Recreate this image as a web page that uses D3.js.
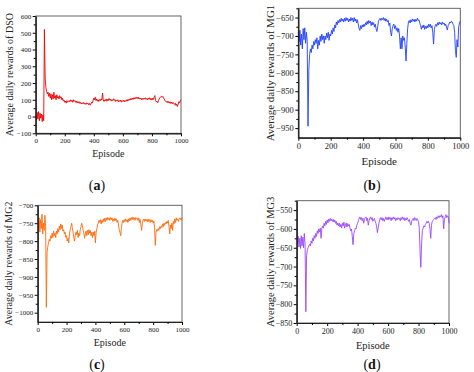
<!DOCTYPE html>
<html>
<head>
<meta charset="utf-8">
<script src="https://cdn.jsdelivr.net/npm/d3@7"></script>
<style>
body { margin: 0; background: #fff; }
svg { display: block; }
svg text { font-family: "Liberation Serif", "Times New Roman", "DejaVu Serif", serif; }
</style>
</head>
<body>
<div id="chart"></div>
<script>
// episode grid, one reading every 5 episodes
var episodes = d3.range(0, 1001, 5);

var dsoRewards = [5,-20,25,-15,30,-25,20,-10,15,-30,10,-25,520,230,175,150,135,145,120,140,
  110,135,100,130,105,145,110,125,100,130,110,120,105,125,110,118,100,110,92,98,
  85,92,80,95,85,90,95,88,100,90,97,85,100,90,95,85,92,82,90,80,
  88,78,85,75,82,76,84,74,80,72,82,75,80,70,78,68,75,85,80,95,
  110,100,115,95,105,92,100,90,102,95,105,98,140,100,90,100,95,105,92,102,
  95,108,98,105,92,100,95,106,96,102,90,98,92,100,88,96,90,98,86,95,
  90,98,88,96,90,100,92,102,95,105,98,108,100,110,102,112,104,114,106,115,
  108,116,105,112,104,110,100,108,102,110,104,112,102,108,100,110,103,112,100,108,
  98,110,102,115,125,95,88,92,82,95,105,112,118,122,115,120,110,105,95,90,
  85,92,82,90,80,88,78,86,76,84,78,72,80,66,75,60,72,88,80,95,100];

var mg1Rewards = [-690,-715,-685,-725,-695,-735,-680,-710,-678,-720,-690,-715,-945,-790,-750,-735,-745,-725,-735,-715,
  -725,-710,-720,-705,-735,-712,-725,-700,-715,-695,-710,-700,-720,-700,-710,-692,-705,-690,-712,-695,
  -700,-685,-695,-678,-688,-670,-678,-662,-670,-658,-665,-655,-662,-652,-660,-654,-662,-652,-660,-650,
  -658,-652,-662,-654,-660,-650,-658,-652,-662,-650,-660,-654,-665,-656,-668,-680,-685,-672,-680,-670,
  -676,-668,-674,-664,-670,-660,-668,-658,-665,-660,-672,-662,-670,-664,-676,-668,-680,-688,-675,-660,
  -655,-652,-658,-652,-656,-650,-658,-652,-660,-654,-662,-658,-672,-665,-690,-700,-680,-672,-668,-680,
  -672,-685,-678,-690,-680,-700,-735,-705,-735,-700,-712,-705,-730,-768,-720,-680,-662,-658,-665,-656,
  -662,-654,-660,-655,-662,-655,-660,-652,-658,-656,-665,-672,-682,-672,-678,-670,-682,-674,-680,-672,
  -678,-668,-675,-668,-678,-672,-690,-722,-682,-672,-668,-674,-664,-670,-662,-668,-664,-670,-662,-668,
  -665,-672,-668,-676,-684,-672,-668,-662,-665,-660,-662,-668,-672,-690,-740,-758,-710,-730,-675,-665,-660];

var mg2Rewards = [-745,-770,-735,-775,-740,-765,-725,-780,-750,-770,-728,-760,-985,-830,-815,-805,-795,-800,-785,-792,
  -778,-790,-772,-785,-778,-790,-772,-780,-765,-775,-758,-768,-752,-765,-755,-772,-768,-780,-775,-790,
  -785,-800,-792,-805,-780,-768,-760,-750,-762,-775,-790,-800,-785,-775,-782,-770,-790,-778,-785,-768,
  -760,-750,-758,-770,-778,-792,-780,-772,-785,-770,-782,-768,-778,-770,-785,-775,-790,-775,-785,-772,
  -805,-775,-765,-755,-750,-742,-748,-740,-752,-742,-748,-738,-746,-736,-745,-735,-742,-734,-740,-735,
  -742,-734,-740,-735,-745,-738,-744,-736,-742,-738,-748,-742,-755,-768,-775,-785,-765,-750,-742,-748,
  -740,-746,-738,-745,-740,-748,-738,-744,-735,-742,-734,-740,-733,-740,-735,-742,-734,-738,-736,-742,
  -735,-748,-740,-755,-770,-752,-742,-738,-745,-738,-744,-740,-746,-738,-745,-740,-748,-740,-746,-742,
  -750,-744,-762,-812,-775,-768,-772,-765,-770,-760,-765,-758,-762,-752,-760,-750,-756,-748,-752,-745,
  -750,-742,-760,-780,-755,-765,-750,-770,-745,-752,-738,-748,-735,-742,-738,-745,-738,-735,-740,-735,-742];

var mg3Rewards = [-615,-640,-620,-648,-625,-652,-618,-645,-622,-650,-612,-640,-820,-670,-655,-650,-645,-640,-645,-632,
  -638,-625,-632,-618,-625,-612,-620,-605,-612,-600,-608,-598,-625,-598,-592,-598,-585,-592,-580,-588,
  -576,-584,-574,-580,-572,-578,-574,-580,-575,-582,-576,-585,-580,-590,-584,-592,-585,-595,-588,-598,
  -585,-592,-582,-598,-590,-584,-595,-586,-592,-588,-598,-605,-600,-620,-642,-612,-605,-598,-600,-590,
  -585,-578,-572,-568,-575,-570,-578,-572,-585,-575,-570,-568,-578,-572,-590,-578,-572,-568,-575,-570,
  -580,-575,-572,-580,-585,-595,-610,-598,-585,-575,-570,-576,-570,-578,-572,-580,-574,-568,-575,-570,
  -576,-568,-574,-570,-578,-570,-575,-568,-574,-570,-578,-572,-576,-570,-574,-572,-578,-570,-575,-568,
  -575,-570,-578,-572,-576,-570,-575,-580,-575,-585,-590,-580,-575,-572,-578,-570,-574,-578,-572,-576,
  -580,-600,-660,-702,-640,-605,-598,-592,-595,-588,-585,-580,-584,-580,-585,-600,-625,-590,-580,-578,
  -575,-572,-570,-575,-568,-572,-565,-570,-565,-568,-562,-570,-565,-600,-575,-568,-562,-570,-565,-568,-585];

var xTicks = [0, 200, 400, 600, 800, 1000];
var dsoTicks = [-100, 0, 100, 200, 300, 400, 500, 600];
var mg1Ticks = [-950, -900, -850, -800, -750, -700, -650];
var mg2Ticks = [-1000, -950, -900, -850, -800, -750, -700];
var mg3Ticks = [-850, -800, -750, -700, -650, -600, -550];

var panels = [
  {values: dsoRewards, ticks: dsoTicks, step: 100, domain: [-100, 600], color: "#f20000",
   name: "Average daily rewards of DSO", tag: "(a)",
   left: 35.7, right: 181, top: 16, bottom: 133.3, tickFont: 7, labelFont: 10,
   labelX: 13, episodeY: 157, tagX: 97, tagY: 190},
  {values: mg1Rewards, ticks: mg1Ticks, step: 50, domain: [-976, -625], color: "#2040ff",
   name: "Average daily rewards of MG1", tag: "(b)",
   left: 298.3, right: 460.3, top: 8.3, bottom: 137.7, tickFont: 8.5, labelFont: 11,
   labelX: 274, episodeY: 165, tagX: 372, tagY: 190},
  {values: mg2Rewards, ticks: mg2Ticks, step: 50, domain: [-1026, -700], color: "#ff6a0a",
   name: "Average daily rewards of MG2", tag: "(c)",
   left: 37.7, right: 182, top: 205.3, bottom: 322, tickFont: 7, labelFont: 10,
   labelX: 12, episodeY: 346, tagX: 97, tagY: 369},
  {values: mg3Rewards, ticks: mg3Ticks, step: 50, domain: [-850, -525], color: "#9b45ff",
   name: "Average daily rewards of MG3", tag: "(d)",
   left: 296.7, right: 449, top: 200.7, bottom: 323, tickFont: 8, labelFont: 10.5,
   labelX: 274, episodeY: 349, tagX: 372, tagY: 369}
];

var serif = "'Liberation Serif', 'Times New Roman', 'DejaVu Serif', serif";

var svg = d3.select("#chart")
  .append("svg")
  .attr("width", 474)
  .attr("height", 372);

panels.forEach(function(p) {
  var x = d3.scaleLinear().domain([0, 1000]).range([p.left, p.right]);
  var y = d3.scaleLinear().domain(p.domain).range([p.bottom, p.top]);

  svg.append("rect")
    .attr("x", p.left)
    .attr("y", p.top)
    .attr("width", p.right - p.left)
    .attr("height", p.bottom - p.top)
    .attr("fill", "none")
    .attr("stroke", "#555")
    .attr("stroke-width", 0.9);

  var line = d3.line()
    .x(function(d, i) { return x(episodes[i]); })
    .y(function(d) { return y(d); });

  svg.append("path")
    .datum(p.values)
    .attr("d", line)
    .attr("fill", "none")
    .attr("stroke", p.color)
    .attr("stroke-width", 0.9)
    .attr("stroke-linejoin", "round");

  // minor ticks halfway between the majors
  var xMinor = xTicks.slice(1).map(function(t) { return t - 100; });
  var yMinor = p.ticks.map(function(t) { return t + p.step / 2; })
    .filter(function(t) { return t <= p.domain[1]; });

  var xAxis = svg.append("g")
    .attr("transform", "translate(0," + p.bottom + ")")
    .call(d3.axisBottom(x).tickValues(xTicks).tickSize(3).tickSizeOuter(0).tickPadding(2)
      .tickFormat(d3.format("d")));
  svg.append("g")
    .attr("transform", "translate(0," + p.bottom + ")")
    .call(d3.axisBottom(x).tickValues(xMinor).tickSize(2).tickSizeOuter(0).tickFormat(""));

  var yAxis = svg.append("g")
    .attr("transform", "translate(" + p.left + ",0)")
    .call(d3.axisLeft(y).tickValues(p.ticks).tickSize(3).tickSizeOuter(0).tickPadding(1.5)
      .tickFormat(d3.format("d")));
  svg.append("g")
    .attr("transform", "translate(" + p.left + ",0)")
    .call(d3.axisLeft(y).tickValues(yMinor).tickSize(2).tickSizeOuter(0).tickFormat(""));

  svg.selectAll(".domain").attr("stroke", "#222");
  [xAxis, yAxis].forEach(function(g) {
    g.attr("font-family", serif);
    g.selectAll("text")
      .style("font-family", serif)
      .attr("font-size", p.tickFont)
      .attr("fill", "#222");
  });

  svg.append("text")
    .attr("transform", "translate(" + p.labelX + "," + ((p.top + p.bottom) / 2) + ") rotate(-90)")
    .attr("text-anchor", "middle")
    .style("font-family", serif)
    .attr("font-size", p.labelFont)
    .attr("fill", "#222")
    .text(p.name);

  svg.append("text")
    .attr("x", (p.left + p.right) / 2)
    .attr("y", p.episodeY)
    .attr("text-anchor", "middle")
    .style("font-family", serif)
    .attr("font-size", p.labelFont)
    .attr("fill", "#222")
    .text("Episode");

  var tag = svg.append("text")
    .attr("x", p.tagX)
    .attr("y", p.tagY)
    .attr("text-anchor", "middle")
    .style("font-family", serif)
    .attr("font-size", 14)
    .attr("fill", "#111");
  tag.append("tspan").text("(");
  tag.append("tspan").attr("font-weight", "bold").text(p.tag.slice(1, 2));
  tag.append("tspan").text(")");
});
</script>
</body>
</html>
